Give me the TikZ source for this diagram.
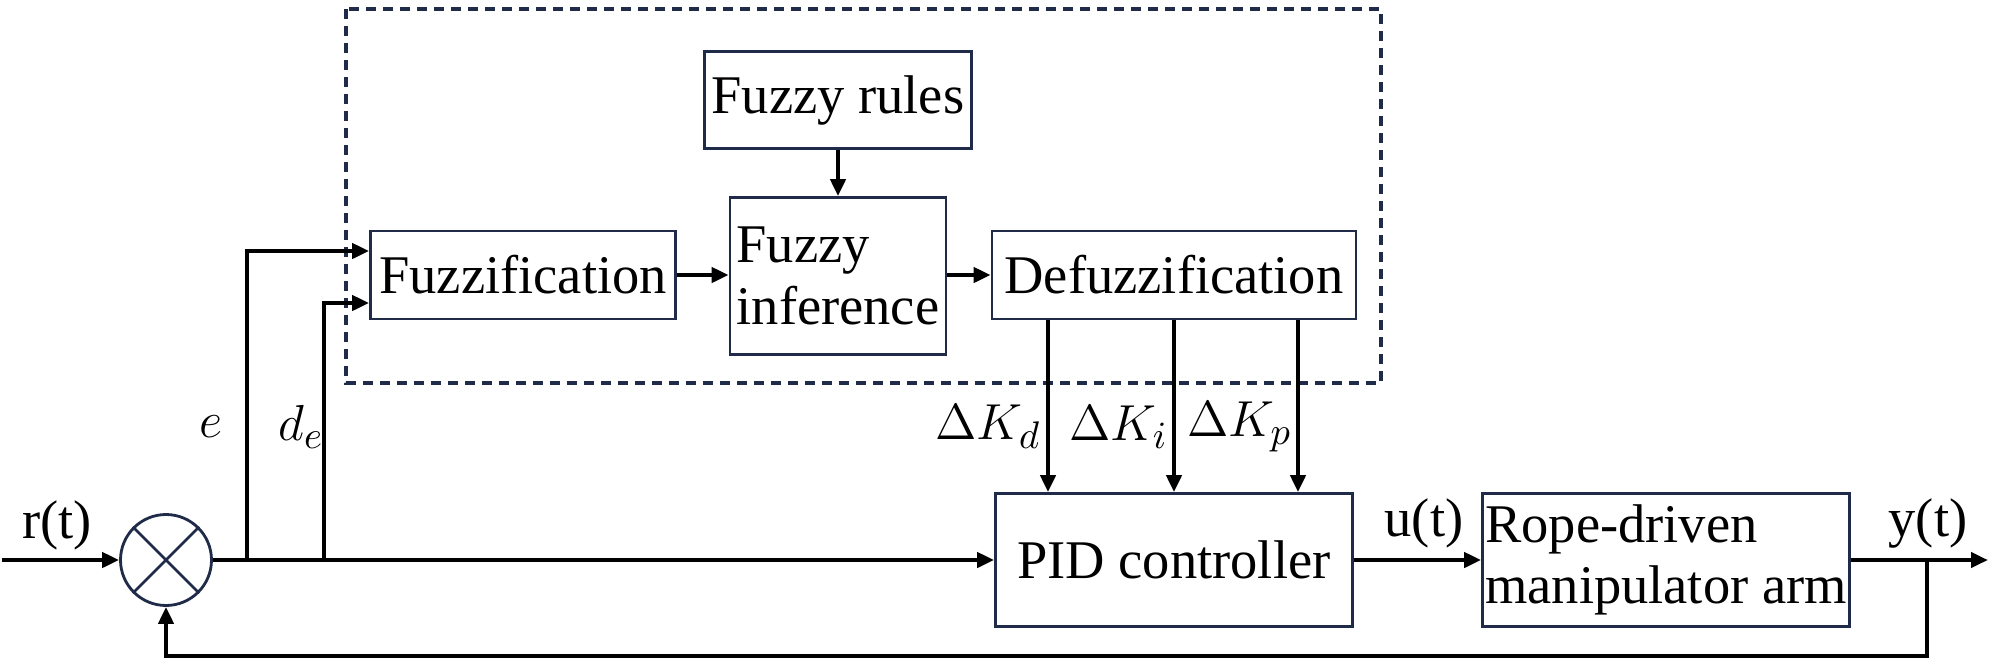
\documentclass[tikz,border=0pt]{standalone}
\usepackage{fontspec}
\setmainfont{Liberation Serif}
\usetikzlibrary{arrows.meta,positioning,calc}
\definecolor{fzink}{HTML}{000000}
\definecolor{fzframe}{HTML}{1F2B48}
\tikzset{
  blockbox/.style={rectangle,draw=fzframe,line width=0.8pt,inner sep=0pt,
                   align=left,font=\fontsize{15.5}{17.5}\selectfont,text=fzink},
  sumnode/.style={circle,draw=fzframe,line width=0.8pt,minimum size=9.1mm,inner sep=0pt},
  flow/.style={-{Triangle[length=1.7mm,width=1.5mm]},line width=1.2pt,draw=fzink},
  wire/.style={line width=1.2pt,draw=fzink},
  frame/.style={draw=fzframe,line width=0.9pt,dash pattern=on 1mm off 0.7mm},
  sig/.style={font=\fontsize{15.5}{17.5}\selectfont,inner sep=1pt,text=fzink},
}
\begin{document}
\begin{tikzpicture}[x=0.1mm,y=-0.1mm]
\useasboundingbox (0,0) rectangle (2000,663);
% fuzzy tuner
\draw[frame] (346,9) rectangle (1381,383);
\node[blockbox,minimum width=26.7mm,minimum height=9.7mm] (rules) at (838,100) {Fuzzy rules};
\node[blockbox,minimum width=30.5mm,minimum height=8.8mm] (fuzz) at (523,275) {Fuzzification};
\node[blockbox,minimum width=21.6mm,minimum height=15.7mm] (infer) at (838,276) {Fuzzy\\inference};
\node[blockbox,minimum width=36.4mm,minimum height=8.8mm] (defuzz) at (1174,275) {Defuzzification};
% control loop
\node[sumnode] (sum) at (166,560) {};
\draw[fzframe,line width=0.8pt] (sum.north west) -- (sum.south east) (sum.north east) -- (sum.south west);
\node[blockbox,align=center,minimum width=35.7mm,minimum height=13.3mm] (pid) at (1174,560) {PID controller};
\node[blockbox,minimum width=36.7mm,minimum height=13.3mm] (plant) at (1666,560) {Rope-driven\\manipulator arm};
\coordinate (rin) at (2,560);
\coordinate (ebr) at (247,560);
\coordinate (dbr) at (324,560);
\coordinate (ybr) at (1927,560);
\coordinate (yout) at (1988,560);
\coordinate (fb) at (1927,656);
\draw[flow] (rin) -- (sum.west);
\draw[flow] (sum.east) -- (pid.west);
\draw[flow] (ebr) |- ([yshift=2.4mm]fuzz.west);
\draw[flow] (dbr) |- ([yshift=-2.8mm]fuzz.west);
\draw[flow] (fuzz.east) -- (fuzz.east -| infer.west);
\draw[flow] (rules) -- (infer);
\draw[flow] (infer.east |- defuzz.west) -- (defuzz.west);
\draw[flow] ([xshift=-12.6mm]defuzz.south) -- ([xshift=-12.6mm]defuzz.south |- pid.north);
\draw[flow] (defuzz.south) -- (defuzz.south |- pid.north);
\draw[flow] ([xshift=12.4mm]defuzz.south) -- ([xshift=12.4mm]defuzz.south |- pid.north);
\draw[flow] (pid) -- (plant);
\draw[flow] (plant) -- (yout);
\draw[flow] (ybr) -- (fb) -| (sum.south);
% signal names
\node[sig] (rlab) at (57,525) {r(t)};
\node[sig] (ulab) at (1424,523) {u(t)};
\node[sig] (ylab) at (1928,523) {y(t)};
\node[sig] (elab) at (211,427) {$e$};
\node[sig] (delab) at (301,427) {$d_e$};
\node[sig,anchor=east] (kd) at (1045,427) {$\Delta K_d$};
\node[sig,anchor=east] (ki) at (1172,427) {$\Delta K_i$};
\node[sig,anchor=east] (kp) at (1296,427) {$\Delta K_p$};
\end{tikzpicture}
\end{document}
